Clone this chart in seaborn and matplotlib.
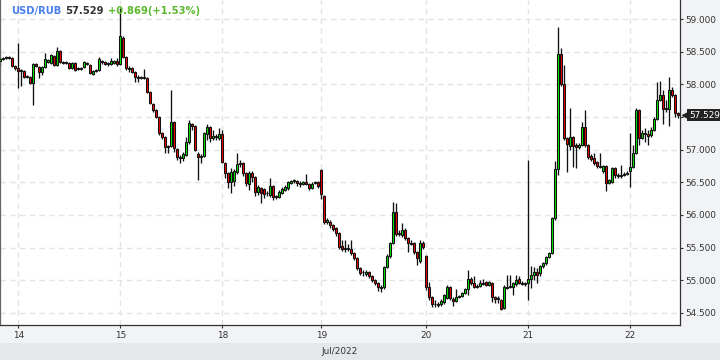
import numpy as np
import matplotlib
matplotlib.use("Agg")
import matplotlib.pyplot as plt
import seaborn as sns
from matplotlib.patches import Rectangle

# ---------------- data (30-minute USD/RUB candles) ----------------
opens = [58.36, 58.39, 58.40, 58.42, 58.40, 58.28, 58.25, 58.20, 58.20, 58.11,
         58.11, 58.02, 58.31, 58.27, 58.19, 58.27, 58.34, 58.33, 58.43, 58.30,
         58.51, 58.34, 58.33, 58.33, 58.25, 58.33, 58.23, 58.25, 58.27, 58.33,
         58.30, 58.16, 58.20, 58.22, 58.36, 58.34, 58.31, 58.31, 58.33, 58.36,
         58.31, 58.71, 58.42, 58.25, 58.25, 58.19, 58.11, 58.11, 58.10, 58.10,
         57.88, 57.70, 57.61, 57.50, 57.25, 57.19, 57.06, 57.06, 57.42, 57.01,
         56.89, 56.87, 56.92, 57.12, 57.39, 57.36, 56.93, 56.89, 56.90, 57.24,
         57.35, 57.18, 57.20, 57.18, 57.24, 56.80, 56.64, 56.51, 56.52, 56.66,
         56.78, 56.80, 56.64, 56.47, 56.64, 56.58, 56.35, 56.41, 56.40, 56.34,
         56.31, 56.44, 56.29, 56.28, 56.34, 56.38, 56.41, 56.49, 56.52, 56.52,
         56.49, 56.47, 56.51, 56.47, 56.41, 56.49, 56.51, 56.69, 56.29, 55.89,
         55.89, 55.85, 55.80, 55.72, 55.52, 55.49, 55.48, 55.48, 55.42, 55.34,
         55.19, 55.13, 55.10, 55.13, 55.07, 55.01, 54.96, 54.90, 54.90, 55.20,
         55.37, 55.57, 56.05, 55.72, 55.69, 55.77, 55.65, 55.57, 55.57, 55.43,
         55.30, 55.57, 55.37, 54.90, 54.74, 54.64, 54.64, 54.64, 54.67, 54.73,
         54.90, 54.71, 54.68, 54.74, 54.76, 54.81, 54.87, 55.02, 54.96, 54.91,
         54.91, 54.96, 54.97, 54.93, 54.96, 54.74, 54.73, 54.70, 54.58, 54.90,
         54.90, 54.90, 54.94, 55.02, 54.96, 54.96, 54.96, 55.02, 55.08, 55.13,
         55.11, 55.22, 55.27, 55.36, 55.42, 55.95, 56.70, 58.46, 58.00, 57.18,
         57.06, 57.19, 57.07, 57.04, 57.07, 57.35, 57.07, 56.90, 56.87, 56.81,
         56.75, 56.67, 56.75, 56.49, 56.51, 56.72, 56.61, 56.60, 56.61, 56.63,
         56.67, 56.73, 56.95, 57.61, 57.18, 57.24, 57.24, 57.22, 57.30, 57.47,
         57.76, 57.84, 57.64, 57.62, 57.91, 57.84, 57.56]

highs = [58.42, 58.42, 58.43, 58.43, 58.42, 58.30, 58.63, 58.23, 58.22, 58.14,
         58.13, 58.33, 58.33, 58.28, 58.28, 58.48, 58.39, 58.46, 58.45, 58.57,
         58.53, 58.36, 58.36, 58.34, 58.34, 58.34, 58.27, 58.27, 58.36, 58.34,
         58.31, 58.22, 58.23, 58.42, 58.37, 58.36, 58.34, 58.40, 58.37, 58.40,
         59.17, 58.74, 58.43, 58.28, 58.27, 58.20, 58.14, 58.13, 58.23, 58.11,
         57.90, 57.71, 57.62, 57.51, 57.27, 57.21, 57.07, 57.91, 57.44, 57.03,
         56.92, 56.96, 57.19, 57.45, 57.41, 57.38, 56.96, 56.93, 57.27, 57.39,
         57.36, 57.30, 57.24, 57.33, 57.30, 56.81, 56.66, 56.72, 56.70, 56.95,
         56.84, 56.81, 56.66, 56.67, 56.67, 56.60, 56.46, 56.43, 56.41, 56.37,
         56.57, 56.46, 56.31, 56.38, 56.43, 56.46, 56.52, 56.54, 56.55, 56.54,
         56.52, 56.52, 56.63, 56.49, 56.51, 56.52, 56.52, 56.70, 56.31, 55.95,
         55.92, 55.86, 55.82, 55.74, 55.62, 55.62, 55.56, 55.62, 55.43, 55.36,
         55.20, 55.16, 55.16, 55.14, 55.08, 55.02, 54.97, 54.93, 55.22, 55.40,
         55.59, 56.20, 56.18, 55.77, 55.88, 55.80, 55.66, 55.62, 55.59, 55.45,
         55.62, 55.60, 55.39, 54.97, 54.76, 54.70, 54.67, 54.71, 54.79, 54.93,
         54.91, 54.74, 54.87, 54.77, 54.82, 54.88, 55.16, 55.05, 55.07, 54.94,
         55.01, 55.02, 54.99, 54.99, 54.97, 54.76, 54.76, 54.71, 54.93, 55.08,
         55.08, 54.97, 55.08, 55.07, 54.99, 54.97, 56.84, 55.22, 55.20, 55.19,
         55.23, 55.28, 55.37, 55.43, 55.97, 56.83, 58.88, 58.56, 58.30, 57.19,
         57.64, 57.21, 57.10, 57.10, 57.42, 57.61, 57.09, 56.93, 56.95, 56.83,
         56.95, 56.77, 56.77, 56.55, 56.73, 56.73, 56.64, 56.77, 56.66, 56.67,
         57.25, 57.07, 57.64, 57.62, 57.30, 57.33, 57.30, 57.35, 57.50, 58.04,
         58.05, 57.91, 57.76, 58.11, 57.96, 57.85, 57.58]

lows = [58.28, 58.37, 58.39, 58.39, 58.27, 58.22, 57.94, 57.97, 58.10, 58.10,
        58.00, 57.68, 58.27, 58.10, 58.14, 58.25, 58.33, 58.31, 58.28, 58.28,
        58.33, 58.31, 58.31, 58.23, 58.23, 58.20, 58.22, 58.22, 58.25, 58.30,
        58.16, 58.14, 58.19, 58.20, 58.31, 58.30, 58.28, 58.30, 58.31, 58.28,
        58.30, 58.40, 58.22, 58.19, 58.17, 58.04, 58.04, 58.08, 58.08, 57.87,
        57.70, 57.58, 57.48, 57.22, 57.16, 56.95, 56.95, 57.04, 56.96, 56.84,
        56.80, 56.83, 56.90, 57.09, 57.30, 56.98, 56.54, 56.80, 56.89, 57.15,
        57.12, 57.15, 57.15, 57.15, 56.80, 56.57, 56.41, 56.34, 56.44, 56.63,
        56.73, 56.60, 56.44, 56.38, 56.51, 56.29, 56.31, 56.18, 56.26, 56.29,
        56.28, 56.23, 56.24, 56.26, 56.32, 56.37, 56.38, 56.47, 56.49, 56.44,
        56.43, 56.46, 56.46, 56.38, 56.40, 56.47, 56.41, 56.24, 55.86, 55.86,
        55.80, 55.75, 55.68, 55.48, 55.45, 55.43, 55.45, 55.39, 55.31, 55.16,
        55.08, 55.07, 55.07, 55.04, 54.97, 54.93, 54.84, 54.82, 54.87, 55.19,
        55.34, 55.56, 55.68, 55.68, 55.66, 55.62, 55.43, 55.54, 55.40, 55.23,
        55.27, 55.48, 54.85, 54.70, 54.59, 54.59, 54.59, 54.61, 54.64, 54.71,
        54.70, 54.61, 54.67, 54.73, 54.74, 54.79, 54.77, 54.93, 54.88, 54.88,
        54.90, 54.93, 54.91, 54.91, 54.67, 54.65, 54.65, 54.55, 54.56, 54.87,
        54.88, 54.77, 54.91, 54.94, 54.93, 54.91, 54.70, 54.88, 55.01, 54.96,
        55.07, 55.19, 55.23, 55.34, 55.40, 55.92, 56.61, 57.97, 57.15, 56.66,
        57.00, 56.73, 56.72, 57.01, 57.06, 57.04, 56.86, 56.83, 56.77, 56.72,
        56.72, 56.64, 56.37, 56.47, 56.49, 56.57, 56.57, 56.57, 56.60, 56.61,
        56.43, 56.72, 56.93, 57.07, 57.16, 57.12, 57.07, 57.19, 57.29, 57.45,
        57.75, 57.39, 57.58, 57.36, 57.81, 57.50, 57.48]

closes = [58.39, 58.40, 58.42, 58.40, 58.28, 58.25, 58.20, 58.22, 58.11, 58.13,
          58.02, 58.31, 58.28, 58.19, 58.27, 58.39, 58.37, 58.45, 58.30, 58.51,
          58.34, 58.33, 58.34, 58.25, 58.33, 58.22, 58.25, 58.23, 58.34, 58.31,
          58.17, 58.20, 58.22, 58.39, 58.34, 58.31, 58.33, 58.36, 58.36, 58.31,
          58.74, 58.42, 58.25, 58.23, 58.19, 58.11, 58.10, 58.10, 58.11, 57.88,
          57.71, 57.61, 57.50, 57.25, 57.19, 57.04, 57.04, 57.42, 57.03, 56.89,
          56.87, 56.93, 57.12, 57.41, 57.36, 57.00, 56.89, 56.90, 57.25, 57.35,
          57.18, 57.21, 57.21, 57.24, 56.81, 56.64, 56.51, 56.66, 56.67, 56.78,
          56.80, 56.64, 56.49, 56.64, 56.58, 56.35, 56.43, 56.34, 56.32, 56.33,
          56.44, 56.28, 56.28, 56.35, 56.40, 56.43, 56.51, 56.52, 56.53, 56.49,
          56.48, 56.51, 56.47, 56.41, 56.47, 56.51, 56.44, 56.32, 55.89, 55.92,
          55.85, 55.79, 55.72, 55.51, 55.48, 55.48, 55.49, 55.42, 55.34, 55.19,
          55.11, 55.12, 55.13, 55.07, 55.01, 54.96, 54.90, 54.89, 55.20, 55.37,
          55.57, 56.05, 55.71, 55.71, 55.77, 55.65, 55.57, 55.56, 55.43, 55.34,
          55.57, 55.51, 54.90, 54.74, 54.64, 54.63, 54.62, 54.68, 54.77, 54.90,
          54.73, 54.68, 54.74, 54.76, 54.81, 54.87, 55.02, 54.96, 54.90, 54.90,
          54.96, 54.95, 54.93, 54.97, 54.74, 54.71, 54.72, 54.56, 54.90, 54.89,
          54.92, 54.96, 55.01, 54.96, 54.95, 54.94, 55.02, 55.08, 55.13, 55.08,
          55.22, 55.27, 55.36, 55.42, 55.95, 56.70, 58.46, 58.00, 57.18, 57.09,
          57.19, 57.06, 57.04, 57.07, 57.35, 57.07, 56.89, 56.86, 56.80, 56.75,
          56.74, 56.75, 56.49, 56.54, 56.72, 56.61, 56.60, 56.61, 56.63, 56.64,
          56.73, 56.95, 57.61, 57.18, 57.25, 57.25, 57.21, 57.30, 57.47, 57.76,
          57.84, 57.62, 57.62, 57.91, 57.84, 57.56, 57.529]

day_labels = ["14", "15", "18", "19", "20", "21", "22"]
day_first_candle = [6, 40, 74, 107, 142, 176, 210]
month_label = "Jul/2022"
y_ticks = [54.5, 55.0, 55.5, 56.0, 56.5, 57.0, 57.5, 58.0, 58.5, 59.0]
symbol = "USD/RUB"
last_price = 57.529
change = 0.869
change_pct = 1.53

# ---------------- style ----------------
sns.set_theme(style="white")
plt.rcParams["font.family"] = ["DejaVu Sans"]

W, H = 720, 360
fig = plt.figure(figsize=(7.2, 3.6), dpi=100, facecolor="#f2f3f5")
ax = fig.add_axes([0, 35 / H, 680 / W, 325 / H])
ax.set_facecolor("white")
fig.patches.append(Rectangle((0, 0), 1, 17 / H, transform=fig.transFigure,
                             facecolor="#e6e7ea", edgecolor="none", zorder=0))

o = np.array(opens); h = np.array(highs); l = np.array(lows); c = np.array(closes)
x = np.arange(len(o))
up = c >= o
colors = np.where(up, "#00e400", "#ec0000")

ax.vlines(x, l, h, color="#111111", linewidth=0.95, zorder=2)
ax.bar(x, c - o, bottom=o, width=0.8, color=colors, edgecolor="#111111",
       linewidth=0.75, zorder=3)

ax.set_xlim(-0.1, 226.57)
ax.set_ylim(54.316, 59.291)

ax.set_xticks(day_first_candle)
ax.set_xticklabels(day_labels)
ax.set_yticks(y_ticks)
ax.set_yticklabels(["" if abs(v - 57.5) < 1e-6 else f"{v:.3f}" for v in y_ticks])
ax.yaxis.tick_right()

ax.grid(True, color="#e4e4e4", linestyle=(0, (4, 3)), linewidth=1.0)
ax.set_axisbelow(True)

ax.spines["top"].set_visible(False)
ax.spines["left"].set_color("#666666")
ax.spines["right"].set_color("#333333")
ax.spines["bottom"].set_color("#333333")
for s in ["left", "right", "bottom"]:
    ax.spines[s].set_linewidth(0.9)

ax.tick_params(axis="y", which="both", right=True, left=False, labelright=True,
               labelleft=False, length=2.5, width=0.8, color="#333333",
               labelsize=6.4, labelcolor="#333333", pad=1.4, direction="out")
ax.tick_params(axis="x", bottom=True, length=2.5, width=0.8, color="#333333",
               labelsize=6.4, labelcolor="#333333", pad=1.5, direction="out")

fig.text(340 / W, 1 - 352 / H, month_label, ha="center", va="center",
         fontsize=6.4, color="#333333")

# title line
t1 = ax.text(11 / 680, 1 - 11 / 325, symbol, transform=ax.transAxes,
             ha="left", va="center", fontsize=7.2, fontweight="bold",
             color="#4a80ee", zorder=5)
t2 = ax.annotate(f"{last_price:.3f}", xy=(1, 0.5), xycoords=t1,
                 xytext=(2.8, 0), textcoords="offset points", ha="left",
                 va="center", fontsize=7.2, fontweight="bold", color="#333333",
                 zorder=5)
ax.annotate(f"+{change:.3f}(+{change_pct:.2f}%)", xy=(1, 0.5), xycoords=t2,
            xytext=(2.8, 0), textcoords="offset points", ha="left",
            va="center", fontsize=7.2, fontweight="bold", color="#5cb82e",
            zorder=5)

# last price tag
tr = ax.get_yaxis_transform()
ax.plot([684.5 / 680], [last_price], marker="<", markersize=4.2,
        color="#222222", transform=tr, clip_on=False, zorder=6)
ax.text(689 / 680, last_price, f"{last_price:.3f}", transform=tr,
        ha="left", va="center", fontsize=6.4, color="white",
        bbox=dict(boxstyle="square,pad=0.18", fc="#222222", ec="none"),
        zorder=6, clip_on=False)

fig.savefig("out.png", dpi=100, facecolor=fig.get_facecolor())
